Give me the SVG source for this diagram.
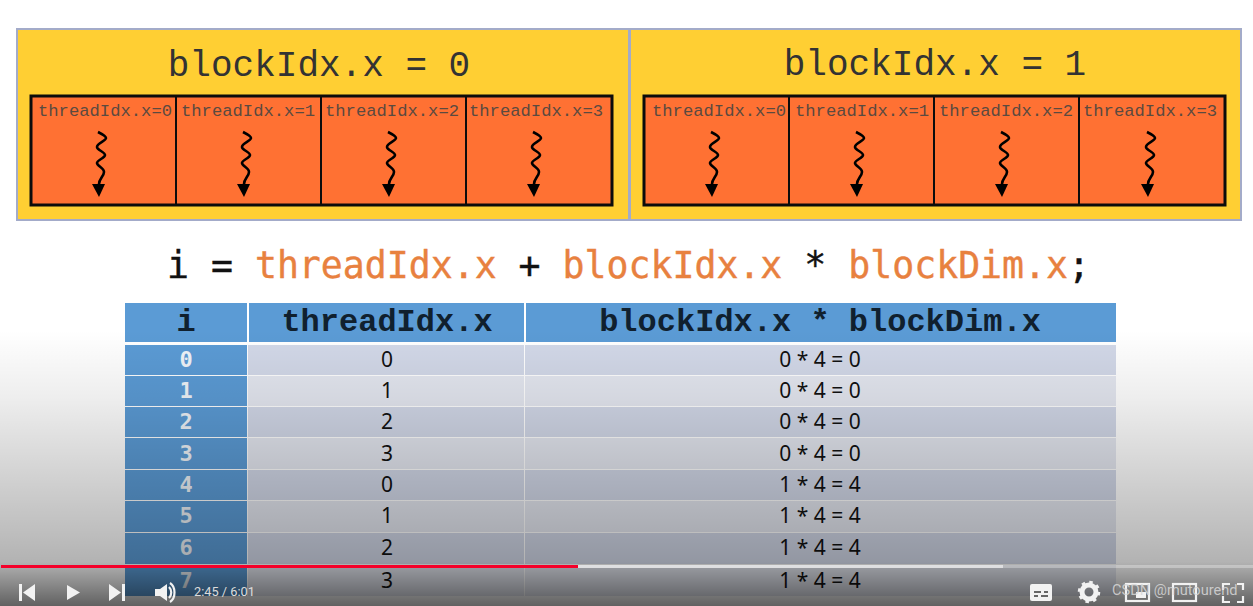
<svg xmlns="http://www.w3.org/2000/svg" width="1253" height="606" viewBox="0 0 1253 606">
<style>
.block{fill:#ffcf33;stroke:#a3abc9;stroke-width:2}
.cell{fill:#ff7133;stroke:#0c0c0c;stroke-width:2}
.frame{fill:none;stroke:#0c0c0c;stroke-width:3}
.bt{font:36px "Liberation Mono",monospace;fill:#333;text-anchor:middle}
.tt{font:17.2px "Liberation Mono",monospace;fill:#5b4a40;text-anchor:middle}
.eq{font:36.5px "DejaVu Sans Mono",monospace;fill:#111;stroke:#111;stroke-width:.4}
.or{fill:#e8813f;stroke:#e8813f}
.hd{fill:#5b9bd5}
.idx{fill:#5b9bd5}
.c1{fill:#d2d8e8}
.c2{fill:#e4e7f0}
.ht{font:bold 32px "Liberation Mono",monospace;fill:#10202e;text-anchor:middle}
.it{font:bold 22px "DejaVu Sans Mono",monospace;fill:#eef3f8;text-anchor:middle}
.ct{font:21px "Noto Sans",sans-serif;fill:#111;text-anchor:middle}
.ic{fill:#f2f2f2}
.ics{fill:none;stroke:#f2f2f2;stroke-width:2.2}
.sq{fill:none;stroke:#000;stroke-width:2.600}
</style>
<defs>
<g id="squig"><path class="sq" d="M0 0C4 2 8 4 8 6C8 9 -1 11 -1 15C-1 18 7 20 7 23C7 26 -1 28 -1 31C-1 34 6 36 6 40C6 44 1 47 1 52"/><path d="M-6 52H7L1 65Z"/></g>
<linearGradient id="shade" x1="0" y1="0" x2="0" y2="1">
<stop offset="0" stop-color="#000" stop-opacity="0"/>
<stop offset=".25" stop-color="#000" stop-opacity=".07"/>
<stop offset=".72" stop-color="#000" stop-opacity=".25"/>
<stop offset=".84" stop-color="#000" stop-opacity=".3"/>
<stop offset="1" stop-color="#000" stop-opacity=".62"/>
</linearGradient>
</defs>
<rect width="1253" height="606" fill="#fff"/>
<g id="block0">
<rect class="block" x="17" y="29" width="612" height="191"/>
<text class="bt" x="319" y="76">blockIdx.x = 0</text>
<g id="b0t0"><rect class="cell" x="31" y="96" width="145" height="109"/><text class="tt" x="105" y="116">threadIdx.x=0</text><use href="#squig" x="98" y="132"/></g>
<g id="b0t1"><rect class="cell" x="176" y="96" width="145" height="109"/><text class="tt" x="248" y="116">threadIdx.x=1</text><use href="#squig" x="243" y="132"/></g>
<g id="b0t2"><rect class="cell" x="321" y="96" width="145" height="109"/><text class="tt" x="392" y="116">threadIdx.x=2</text><use href="#squig" x="388" y="132"/></g>
<g id="b0t3"><rect class="cell" x="466" y="96" width="146" height="109"/><text class="tt" x="536" y="116">threadIdx.x=3</text><use href="#squig" x="533" y="132"/></g>
<rect class="frame" x="31" y="96" width="581" height="109"/>
</g>
<g id="block1">
<rect class="block" x="630" y="29" width="611" height="191"/>
<text class="bt" x="935" y="75">blockIdx.x = 1</text>
<g id="b1t0"><rect class="cell" x="644" y="96" width="145" height="109"/><text class="tt" x="719" y="116">threadIdx.x=0</text><use href="#squig" x="711" y="132"/></g>
<g id="b1t1"><rect class="cell" x="789" y="96" width="145" height="109"/><text class="tt" x="862" y="116">threadIdx.x=1</text><use href="#squig" x="856" y="132"/></g>
<g id="b1t2"><rect class="cell" x="934" y="96" width="145" height="109"/><text class="tt" x="1006" y="116">threadIdx.x=2</text><use href="#squig" x="1001" y="132"/></g>
<g id="b1t3"><rect class="cell" x="1079" y="96" width="146" height="109"/><text class="tt" x="1150" y="116">threadIdx.x=3</text><use href="#squig" x="1147" y="132"/></g>
<rect class="frame" x="644" y="96" width="581" height="109"/>
</g>
<text id="equation" class="eq" x="167" y="278">i = <tspan class="or">threadIdx.x</tspan> + <tspan class="or">blockIdx.x</tspan> * <tspan class="or">blockDim.x</tspan>;</text>
<g id="table">
<rect class="hd" x="125" y="303" width="122" height="39"/>
<rect class="hd" x="249" y="303" width="275" height="39"/>
<rect class="hd" x="526" y="303" width="590" height="39"/>
<text class="ht" x="186" y="331">i</text>
<text class="ht" x="387" y="331">threadIdx.x</text>
<text class="ht" x="820" y="331">blockIdx.x * blockDim.x</text>
<g id="r0"><rect class="idx" x="125" y="345" width="122" height="30"/><rect class="c1" x="248" y="345" width="276" height="30"/><rect class="c1" x="525" y="345" width="591" height="30"/><text class="it" x="186" y="367">0</text><text class="ct" x="387" y="367">0</text><text class="ct" x="820" y="367">0 * 4 = 0</text></g>
<g id="r1"><rect class="idx" x="125" y="376" width="122" height="30"/><rect class="c2" x="248" y="376" width="276" height="30"/><rect class="c2" x="525" y="376" width="591" height="30"/><text class="it" x="186" y="398">1</text><text class="ct" x="387" y="398">1</text><text class="ct" x="820" y="398">0 * 4 = 0</text></g>
<g id="r2"><rect class="idx" x="125" y="407" width="122" height="30"/><rect class="c1" x="248" y="407" width="276" height="30"/><rect class="c1" x="525" y="407" width="591" height="30"/><text class="it" x="186" y="429">2</text><text class="ct" x="387" y="429">2</text><text class="ct" x="820" y="429">0 * 4 = 0</text></g>
<g id="r3"><rect class="idx" x="125" y="438" width="122" height="31"/><rect class="c2" x="248" y="438" width="276" height="31"/><rect class="c2" x="525" y="438" width="591" height="31"/><text class="it" x="186" y="461">3</text><text class="ct" x="387" y="461">3</text><text class="ct" x="820" y="461">0 * 4 = 0</text></g>
<g id="r4"><rect class="idx" x="125" y="470" width="122" height="30"/><rect class="c1" x="248" y="470" width="276" height="30"/><rect class="c1" x="525" y="470" width="591" height="30"/><text class="it" x="186" y="492">4</text><text class="ct" x="387" y="492">0</text><text class="ct" x="820" y="492">1 * 4 = 4</text></g>
<g id="r5"><rect class="idx" x="125" y="501" width="122" height="31"/><rect class="c2" x="248" y="501" width="276" height="31"/><rect class="c2" x="525" y="501" width="591" height="31"/><text class="it" x="186" y="523">5</text><text class="ct" x="387" y="523">1</text><text class="ct" x="820" y="523">1 * 4 = 4</text></g>
<g id="r6"><rect class="idx" x="125" y="533" width="122" height="31"/><rect class="c1" x="248" y="533" width="276" height="31"/><rect class="c1" x="525" y="533" width="591" height="31"/><text class="it" x="186" y="555">6</text><text class="ct" x="387" y="555">2</text><text class="ct" x="820" y="555">1 * 4 = 4</text></g>
<g id="r7"><rect class="idx" x="125" y="565" width="122" height="31"/><rect class="c2" x="248" y="565" width="276" height="31"/><rect class="c2" x="525" y="565" width="591" height="31"/><text class="it" x="186" y="588">7</text><text class="ct" x="387" y="588">3</text><text class="ct" x="820" y="588">1 * 4 = 4</text></g>
</g>
<rect id="shadeOverlay" x="0" y="330" width="1253" height="276" fill="url(#shade)"/>
<g id="player">
<rect x="1" y="565" width="1252" height="3" fill="#fff" fill-opacity=".3"/>
<rect x="578" y="565" width="425" height="3" fill="#fff" fill-opacity=".55"/>
<rect x="1" y="565" width="577" height="3" fill="#f5002a"/>
<path class="ic" d="M19 584H22V601H19ZM35 584V601L23 592.500Z"/>
<path class="ic" d="M67 585L80 592.500L67 600Z"/>
<path class="ic" d="M109 584L121 592.500L109 601ZM122 584H125V601H122Z"/>
<path class="ic" d="M155 589H160L167 584V601L160 596H155Z"/>
<path class="ics" d="M169 587C172 590 172 595 169 598M170 583C176 587 176 598 170 602"/>
<text x="194" y="596" font-family="Roboto,sans-serif" font-size="12.800" fill="#dcdcdc">2:45 / 6:01</text>
<rect class="ic" x="1030" y="584" width="22" height="17" rx="2"/>
<path d="M1034 592H1041M1044 592H1048M1034 596H1038M1041 596H1048" stroke="#666" stroke-width="2"/>
<circle cx="1089" cy="592" r="7" fill="none" stroke="#f2f2f2" stroke-width="5"/>
<circle cx="1089" cy="592" r="10" fill="none" stroke="#f2f2f2" stroke-width="2.500" stroke-dasharray="3.500 4.350"/>
<rect class="ics" x="1126" y="584" width="23" height="17"/>
<path class="ic" d="M1136 592H1146V598H1136Z"/>
<rect class="ics" x="1173" y="584" width="23" height="17"/>
<path class="ics" d="M1223 590V584H1230M1237 584H1243V590M1243 596V602H1237M1230 602H1223V596"/>
<text x="1112" y="595" font-family="Roboto,sans-serif" font-size="14.600" fill="#d8d8d8" fill-opacity=".85">CSDN @mutourend</text>
</g>
</svg>
